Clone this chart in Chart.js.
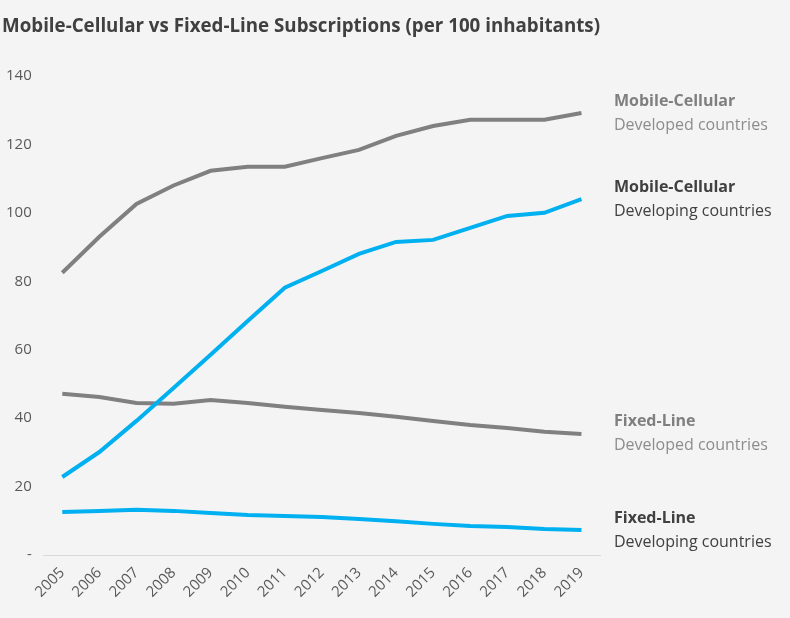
<!DOCTYPE html>
<html><head><meta charset="utf-8">
<script src="https://cdn.jsdelivr.net/npm/chart.js@4/dist/chart.umd.min.js"></script>
<style>html,body{margin:0;padding:0;background:#f4f4f4}#wrap{width:790px;height:618px}</style>
</head><body><div id="wrap"><canvas id="c"></canvas></div>
<script>
const years=['2005','2006','2007','2008','2009','2010','2011','2012','2013','2014','2015','2016','2017','2018','2019'];
const mobileDeveloped=[82.5,93,102.6,108,112.3,113.5,113.5,116,118.4,122.5,125.4,127.2,127.2,127.2,129.2];
const mobileDeveloping=[22.8,30.1,39.2,48.8,58.5,68.4,78.1,83,88,91.5,92.1,95.6,99.1,100,104];
const fixedDeveloped=[47.1,46.2,44.4,44.2,45.3,44.4,43.3,42.4,41.5,40.4,39.2,38,37.1,36,35.4];
const fixedDeveloping=[12.6,12.9,13.2,12.9,12.3,11.7,11.4,11.1,10.5,9.9,9.1,8.5,8.2,7.6,7.3];
const seriesTitles=['Mobile-Cellular','Mobile-Cellular','Fixed-Line','Fixed-Line'];
const seriesSubs=['Developed countries','Developing countries','Developed countries','Developing countries'];
const GRAY='#808080', BLUE='#00b0f0';
const endLabels={id:'endLabels',afterDatasetsDraw(ch){
  const ctx=ch.ctx;ctx.save();
  ch.data.datasets.forEach((ds,i)=>{
    const y=ch.scales.y.getPixelForValue(ds.data[ds.data.length-1]);
    const x=ch.chartArea.right+14;
    const dev=i%2===0;
    ctx.textAlign='left';ctx.textBaseline='middle';
    ctx.font='bold 16px "Open Sans"';ctx.fillStyle=dev?'#7f7f7f':'#404040';
    ctx.fillText(seriesTitles[i],x,y-12);
    ctx.font='16px "Open Sans"';ctx.fillStyle=dev?'#8c8c8c':'#404040';
    ctx.fillText(seriesSubs[i],x,y+12);
  });ctx.restore();}};
const mk=(d,c)=>({data:d,borderColor:c,borderWidth:4,pointRadius:0,tension:0,fill:false});
new Chart(document.getElementById('c'),{type:'line',
 data:{labels:years,datasets:[mk(mobileDeveloped,GRAY),mk(mobileDeveloping,BLUE),mk(fixedDeveloped,GRAY),mk(fixedDeveloping,BLUE)]},
 options:{responsive:true,maintainAspectRatio:false,animation:false,
  layout:{padding:{left:2,right:190,top:0,bottom:14}},
  plugins:{legend:{display:false},tooltip:{enabled:false},
   title:{display:true,text:'Mobile-Cellular vs Fixed-Line Subscriptions (per 100 inhabitants)',color:'#404040',font:{family:'Open Sans',size:20,weight:'bold'},padding:{top:14,bottom:38},align:'center',fullSize:true}},
  scales:{
   x:{offset:true,grid:{display:false,drawTicks:true,tickLength:6,color:'#d9d9d9'},border:{color:'#d9d9d9'},
      ticks:{color:'#595959',font:{family:'Open Sans',size:15},maxRotation:45,minRotation:45,autoSkip:false}},
   y:{min:0,max:140,grid:{display:false},border:{display:false},
      ticks:{stepSize:20,color:'#595959',font:{family:'Open Sans',size:15},padding:4,callback:v=>v===0?'-':v}}
  }},
 plugins:[endLabels]});
</script></body></html>
